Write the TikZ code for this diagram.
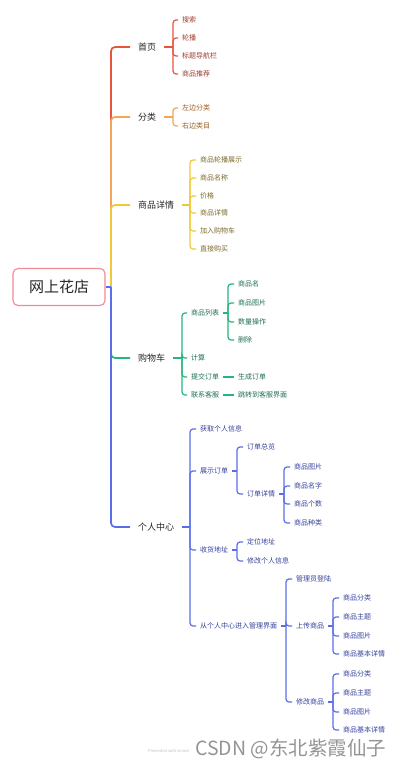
\documentclass[tikz,border=0pt]{standalone}
\usepackage{fontspec}
\setmainfont{Noto Sans CJK SC}
\definecolor{cred}{HTML}{E8553E}
\definecolor{tred}{HTML}{9C3B2C}
\definecolor{corg}{HTML}{F2A65A}
\definecolor{torg}{HTML}{9A5A20}
\definecolor{cyel}{HTML}{F0C93A}
\definecolor{tyel}{HTML}{7A6A2A}
\definecolor{cgrn}{HTML}{25B57D}
\definecolor{tgrn}{HTML}{1E6E4E}
\definecolor{cblu}{HTML}{5A6EE8}
\definecolor{tblu}{HTML}{34409A}
\definecolor{cpink}{HTML}{F08A94}
\tikzset{
  lone/.style={anchor=west, inner xsep=8pt, inner ysep=1pt, font=\fontsize{9}{10}\selectfont, text=black!85},
  ltwo/.style={anchor=west, inner xsep=4pt, inner ysep=1pt, font=\fontsize{7}{8}\selectfont},
  trunk/.style={line width=1.7pt, rounded corners=4pt},
  twig/.style={line width=1.2pt, rounded corners=3pt},
}
\begin{document}
\begin{tikzpicture}[x=1pt,y=-1pt]
\useasboundingbox (0,0) rectangle (401,769);
% root
\node[draw=cpink, line width=1.1pt, rounded corners=5pt, fill=white, minimum width=92pt, minimum height=37pt, font=\fontsize{15}{16}\selectfont, text=black!85] (root) at (59,287) {网上花店};
\coordinate (t) at (111,287);
% level 1
\node[lone] (a1) at (130,47) {首页};
\node[lone] (a2) at (130,117) {分类};
\node[lone] (a3) at (130,205) {商品详情};
\node[lone] (a4) at (130,358) {购物车};
\node[lone] (a5) at (130,527) {个人中心};
\draw[trunk,cred] (t) |- (a1.west);
\draw[trunk,corg] (t) |- (a2.west);
\draw[trunk,cyel] (t) |- (a3.west);
\draw[trunk,cgrn] (t) |- (a4.west);
\draw[trunk,cblu] (t) |- (a5.west);
\draw[trunk,cblu] (root.east) -- (t);

% 首页
\coordinate (b1) at (173,47);
\draw[twig,cred] (a1.east) -- (b1);
\foreach \n/\y/\t in {a1c1/20/搜索, a1c2/38/轮播, a1c3/56/标题导航栏, a1c4/74/商品推荐}{
  \node[ltwo,text=tred] (\n) at (178,\y) {\t};
  \draw[twig,cred] (b1) |- (\n.west);
}
% 分类
\coordinate (b2) at (173,117);
\draw[twig,corg] (a2.east) -- (b2);
\foreach \n/\y/\t in {a2c1/108/左边分类, a2c2/126/右边类目}{
  \node[ltwo,text=torg] (\n) at (178,\y) {\t};
  \draw[twig,corg] (b2) |- (\n.west);
}
% 商品详情
\coordinate (b3) at (190,205);
\draw[twig,cyel] (a3.east) -- (b3);
\foreach \n/\y/\t in {a3c1/160/商品轮播展示, a3c2/178/商品名称, a3c3/196/价格, a3c4/213/商品详情, a3c5/231/加入购物车, a3c6/249/直接购买}{
  \node[ltwo,text=tyel] (\n) at (196,\y) {\t};
  \draw[twig,cyel] (b3) |- (\n.west);
}
% 购物车
\coordinate (b4) at (182,358);
\draw[twig,cgrn] (a4.east) -- (b4);
\foreach \n/\y/\t in {a4c1/313/商品列表, a4c2/358/计算, a4c3/377/提交订单, a4c4/395/联系客服}{
  \node[ltwo,text=tgrn] (\n) at (187,\y) {\t};
  \draw[twig,cgrn] (b4) |- (\n.west);
}
\coordinate (b41) at (228,313);
\draw[twig,cgrn] (a4c1.east) -- (b41);
\foreach \n/\y/\t in {a4d1/284/商品名, a4d2/303/商品图片, a4d3/322/数量操作, a4d4/340/删除}{
  \node[ltwo,text=tgrn] (\n) at (234,\y) {\t};
  \draw[twig,cgrn] (b41) |- (\n.west);
}
\node[ltwo,text=tgrn] (a4e1) at (234,377) {生成订单};
\draw[twig,cgrn] (a4c3.east) -- (a4e1.west);
\node[ltwo,text=tgrn] (a4e2) at (234,395) {跳转到客服界面};
\draw[twig,cgrn] (a4c4.east) -- (a4e2.west);

% 个人中心
\coordinate (b5) at (190,527);
\draw[twig,cblu] (a5.east) -- (b5);
\foreach \n/\y/\t in {a5c1/429/获取个人信息, a5c2/471/展示订单, a5c3/550/收货地址, a5c4/626/从个人中心进入管理界面}{
  \node[ltwo,text=tblu] (\n) at (196,\y) {\t};
  \draw[twig,cblu] (b5) |- (\n.west);
}
% 展示订单
\coordinate (b52) at (237,471);
\draw[twig,cblu] (a5c2.east) -- (b52);
\foreach \n/\y/\t in {a5d1/447/订单总览, a5d2/494/订单详情}{
  \node[ltwo,text=tblu] (\n) at (243,\y) {\t};
  \draw[twig,cblu] (b52) |- (\n.west);
}
\coordinate (b53) at (284,494);
\draw[twig,cblu] (a5d2.east) -- (b53);
\foreach \n/\y/\t in {a5e1/467/商品图片, a5e2/486/商品名字, a5e3/504/商品个数, a5e4/523/商品种类}{
  \node[ltwo,text=tblu] (\n) at (290,\y) {\t};
  \draw[twig,cblu] (b53) |- (\n.west);
}
% 收货地址
\coordinate (b54) at (237,550);
\draw[twig,cblu] (a5c3.east) -- (b54);
\foreach \n/\y/\t in {a5f1/542/定位地址, a5f2/561/修改个人信息}{
  \node[ltwo,text=tblu] (\n) at (243,\y) {\t};
  \draw[twig,cblu] (b54) |- (\n.west);
}
% 管理界面
\coordinate (b55) at (286,626);
\draw[twig,cblu] (a5c4.east) -- (b55);
\foreach \n/\y/\t in {a5g1/579/管理员登陆, a5g2/626/上传商品, a5g3/702/修改商品}{
  \node[ltwo,text=tblu] (\n) at (292,\y) {\t};
  \draw[twig,cblu] (b55) |- (\n.west);
}
\coordinate (b56) at (333,626);
\draw[twig,cblu] (a5g2.east) -- (b56);
\foreach \n/\y/\t in {a5h1/598/商品分类, a5h2/617/商品主题, a5h3/636/商品图片, a5h4/654/商品基本详情}{
  \node[ltwo,text=tblu] (\n) at (339,\y) {\t};
  \draw[twig,cblu] (b56) |- (\n.west);
}
\coordinate (b57) at (333,702);
\draw[twig,cblu] (a5g3.east) -- (b57);
\foreach \n/\y/\t in {a5i1/674/商品分类, a5i2/693/商品主题, a5i3/712/商品图片, a5i4/730/商品基本详情}{
  \node[ltwo,text=tblu] (\n) at (339,\y) {\t};
  \draw[twig,cblu] (b57) |- (\n.west);
}

% watermark
\node[anchor=west, font=\fontsize{4}{5}\selectfont, text=black!25, inner sep=0] (pw) at (148,751) {Presented with xmind};
\node[anchor=west, font=\fontsize{19.5}{20}\selectfont, text=black!42, inner sep=0] (wm) at (195,749) {CSDN @东北紫霞仙子};
\end{tikzpicture}
\end{document}
